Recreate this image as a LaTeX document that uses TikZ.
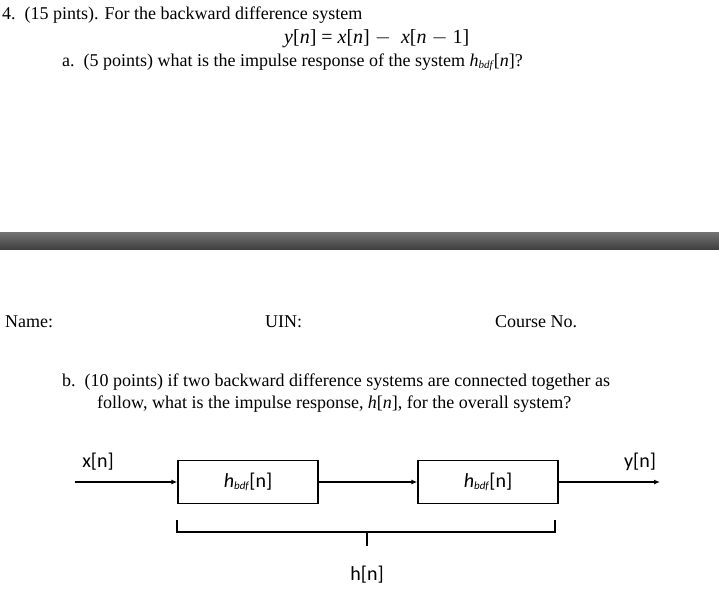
\documentclass[tikz,border=0pt]{standalone}
\usepackage{fontspec}
\setmainfont{Liberation Serif}
\newfontfamily\carfont{Carlito}
\usetikzlibrary{arrows.meta}
\newcommand{\hb}{\textit{h}\raisebox{-2pt}{\fontsize{11}{12}\selectfont\textit{bdf}}}
\begin{document}
\begin{tikzpicture}[x=1pt,y=-1pt,
  txt/.style={anchor=west,inner sep=0pt,font=\fontsize{18}{20}\selectfont},
  blk/.style={draw,line width=1.3pt,minimum width=140pt,minimum height=43pt,font=\carfont\fontsize{20}{22}\selectfont},
  lbl/.style={font=\carfont\fontsize{20}{22}\selectfont,inner sep=0pt},
  wire/.style={line width=1.3pt,-{Latex[length=6pt,width=5pt]}}]
\useasboundingbox (0,0) rectangle (719,589);
\node[txt] (t1) at (2,15) {4.\ \ (15 pints). For the backward difference system};
\node[txt,font=\fontsize{20}{22}\selectfont] (t2) at (284,39) {\textit{y}[\textit{n}] = \textit{x}[\textit{n}] $-$ \ \textit{x}[\textit{n} $-$ 1]};
\node[txt] (t3) at (62,62) {a.\ \ (5 points) what is the impulse response of the system \hb[\textit{n}]?};
\shade[top color=black!55,bottom color=black!75] (0,232) rectangle (719,249);
\node[txt] (n1) at (5,322) {Name:};
\node[txt] (n2) at (265,322) {UIN:};
\node[txt] (n3) at (495,322) {Course No.};
\node[txt] (b1) at (62,382) {b.\ \ (10 points) if two backward difference systems are connected together as};
\node[txt] (b2) at (97,404) {follow, what is the impulse response, \textit{h}[\textit{n}], for the overall system?};
\node[blk] (h1) at (248,482) {\hb[n]};
\node[blk] (h2) at (488,482) {\hb[n]};
\coordinate (in) at (75,482);
\coordinate (out) at (660,482);
\node[lbl] (x) at (98,462) {x[n]};
\node[lbl] (y) at (640,462) {y[n]};
\draw[wire] (in) -- (h1.west);
\draw[wire] (h1.east) -- (h2.west);
\draw[wire] (h2.east) -- (out);
\coordinate (bl) at (177,520);
\coordinate (br) at (555,520);
\coordinate (bm) at (367,532);
\draw[line width=1.3pt] (bl) -- (177,532) -- (555,532) -- (br);
\draw[line width=1.3pt] (bm) -- (367,546);
\node[lbl] (h) at (367,575) {h[n]};
\end{tikzpicture}
\end{document}
